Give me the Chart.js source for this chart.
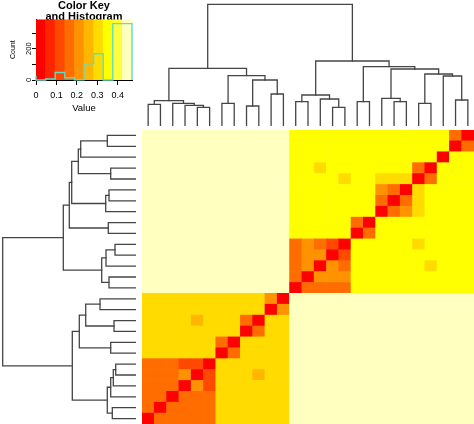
<!DOCTYPE html>
<html>
<head>
<meta charset="utf-8">
<title>Heatmap with dendrograms</title>
<script src="https://cdn.jsdelivr.net/npm/chart.js@4.4.1/dist/chart.umd.min.js"></script>
<style>
  html, body { margin: 0; padding: 0; background: #fff; }
  #page { position: relative; width: 474px; height: 424px; overflow: hidden; }
  .box { position: absolute; }
</style>
</head>
<body>
<div id="page">
  <div class="box" style="left:142px;top:0;width:332px;height:126px"><canvas id="colTree"></canvas></div>
  <div class="box" style="left:0;top:130px;width:136px;height:294px"><canvas id="rowTree"></canvas></div>
  <div class="box" style="left:142px;top:130px;width:332px;height:294px"><canvas id="heat"></canvas></div>
  <div class="box" style="left:0;top:0;width:140px;height:115px"><canvas id="key"></canvas></div>
</div>
<script>
// colour key: 10 bins between these breaks (heat.colors)
const keyBreaks = [0, 0.047, 0.094, 0.141, 0.188, 0.235, 0.282, 0.329, 0.376, 0.423, 0.47]
const heatPalette = ['#FF0000', '#FF2400', '#FF4900', '#FF6D00', '#FF9200',
                     '#FFB600', '#FFDB00', '#FFFF00', '#FFFF40', '#FFFFBF']
const countTicksShown = [0, 200]

// distance matrix, samples already in dendrogram order
// row k = sample k (drawn from the bottom up), column k = sample k (left to right)
const distRows = [
  [0,.16,.16,.16,.16,.16,.3,.3,.3,.3,.3,.3,.44,.44,.44,.44,.44,.44,.44,.44,.44,.44,.44,.44,.44,.44,.44],
  [.16,0,.16,.16,.16,.16,.3,.3,.3,.3,.3,.3,.44,.44,.44,.44,.44,.44,.44,.44,.44,.44,.44,.44,.44,.44,.44],
  [.16,.16,0,.16,.16,.16,.3,.3,.3,.3,.3,.3,.44,.44,.44,.44,.44,.44,.44,.44,.44,.44,.44,.44,.44,.44,.44],
  [.16,.16,.16,0,.21,.12,.3,.3,.3,.3,.3,.3,.44,.44,.44,.44,.44,.44,.44,.44,.44,.44,.44,.44,.44,.44,.44],
  [.16,.16,.16,.21,0,.12,.3,.3,.3,.26,.3,.3,.44,.44,.44,.44,.44,.44,.44,.44,.44,.44,.44,.44,.44,.44,.44],
  [.16,.16,.16,.12,.12,0,.3,.3,.3,.3,.3,.3,.44,.44,.44,.44,.44,.44,.44,.44,.44,.44,.44,.44,.44,.44,.44],
  [.3,.3,.3,.3,.3,.3,0,.16,.3,.3,.3,.3,.44,.44,.44,.44,.44,.44,.44,.44,.44,.44,.44,.44,.44,.44,.44],
  [.3,.3,.3,.3,.3,.3,.16,0,.3,.3,.3,.3,.44,.44,.44,.44,.44,.44,.44,.44,.44,.44,.44,.44,.44,.44,.44],
  [.3,.3,.3,.3,.3,.3,.3,.3,0,.16,.3,.3,.44,.44,.44,.44,.44,.44,.44,.44,.44,.44,.44,.44,.44,.44,.44],
  [.3,.3,.3,.3,.26,.3,.3,.3,.16,0,.3,.3,.44,.44,.44,.44,.44,.44,.44,.44,.44,.44,.44,.44,.44,.44,.44],
  [.3,.3,.3,.3,.3,.3,.3,.3,.3,.3,0,.21,.44,.44,.44,.44,.44,.44,.44,.44,.44,.44,.44,.44,.44,.44,.44],
  [.3,.3,.3,.3,.3,.3,.3,.3,.3,.3,.21,0,.44,.44,.44,.44,.44,.44,.44,.44,.44,.44,.44,.44,.44,.44,.44],
  [.44,.44,.44,.44,.44,.44,.44,.44,.44,.44,.44,.44,0,.16,.16,.16,.16,.35,.35,.35,.35,.35,.35,.35,.35,.35,.35],
  [.44,.44,.44,.44,.44,.44,.44,.44,.44,.44,.44,.44,.16,0,.21,.21,.21,.35,.35,.35,.35,.35,.35,.35,.35,.35,.35],
  [.44,.44,.44,.44,.44,.44,.44,.44,.44,.44,.44,.44,.16,.21,0,.21,.16,.35,.35,.35,.35,.35,.35,.3,.35,.35,.35],
  [.44,.44,.44,.44,.44,.44,.44,.44,.44,.44,.44,.44,.16,.21,.21,0,.12,.35,.35,.35,.35,.35,.35,.35,.35,.35,.35],
  [.44,.44,.44,.44,.44,.44,.44,.44,.44,.44,.44,.44,.16,.21,.16,.12,0,.35,.35,.35,.35,.35,.3,.35,.35,.35,.35],
  [.44,.44,.44,.44,.44,.44,.44,.44,.44,.44,.44,.44,.35,.35,.35,.35,.35,0,.16,.35,.35,.35,.35,.35,.35,.35,.35],
  [.44,.44,.44,.44,.44,.44,.44,.44,.44,.44,.44,.44,.35,.35,.35,.35,.35,.16,0,.35,.35,.35,.35,.35,.35,.35,.35],
  [.44,.44,.44,.44,.44,.44,.44,.44,.44,.44,.44,.44,.35,.35,.35,.35,.35,.35,.35,0,.16,.21,.3,.35,.35,.35,.35],
  [.44,.44,.44,.44,.44,.44,.44,.44,.44,.44,.44,.44,.35,.35,.35,.35,.35,.35,.35,.16,0,.16,.3,.35,.35,.35,.35],
  [.44,.44,.44,.44,.44,.44,.44,.44,.44,.44,.44,.44,.35,.35,.35,.35,.35,.35,.35,.21,.16,0,.3,.35,.35,.35,.35],
  [.44,.44,.44,.44,.44,.44,.44,.44,.44,.44,.44,.44,.35,.35,.35,.35,.3,.35,.35,.3,.3,.3,0,.16,.35,.35,.35],
  [.44,.44,.44,.44,.44,.44,.44,.44,.44,.44,.44,.44,.35,.35,.3,.35,.35,.35,.35,.35,.35,.35,.16,0,.35,.35,.35],
  [.44,.44,.44,.44,.44,.44,.44,.44,.44,.44,.44,.44,.35,.35,.35,.35,.35,.35,.35,.35,.35,.35,.35,.35,0,.35,.35],
  [.44,.44,.44,.44,.44,.44,.44,.44,.44,.44,.44,.44,.35,.35,.35,.35,.35,.35,.35,.35,.35,.35,.35,.35,.35,0,.16],
  [.44,.44,.44,.44,.44,.44,.44,.44,.44,.44,.44,.44,.35,.35,.35,.35,.35,.35,.35,.35,.35,.35,.35,.35,.35,.16,0]
]

// dendrograms, hclust style: negative = leaf (-1 is sample 0), positive = earlier merge (1-based)
const colMerges = [
  [-5, -6], [-4, 1], [-3, 2], [-1, -2], [4, 3], [-7, -8], [-9, -10], [-11, -12], [7, 8], [6, 9],
  [5, 10], [-13, -14], [-16, -17], [-15, 13], [12, 14], [-18, -19], [-21, -22], [-20, 17], [-23, -24], [-26, -27],
  [-25, 20], [19, 21], [18, 22], [16, 23], [15, 24], [11, 25]
]
const colHeights = [
  0.187, 0.207, 0.227, 0.217, 0.253, 0.227, 0.200, 0.320, 0.460, 0.503,
  0.577, 0.243, 0.187, 0.270, 0.310, 0.243, 0.243, 0.277, 0.227, 0.260,
  0.500, 0.520, 0.570, 0.593, 0.650, 1.217
]
const rowMerges = [
  [-26, -27], [-25, 1], [-23, -24], [3, 2], [-21, -22], [-20, 5], [4, 6], [-18, -19], [7, 8], [-16, -17],
  [-15, 10], [-13, -14], [11, 12], [9, 13], [-11, -12], [-9, -10], [15, 16], [-7, -8], [17, 18], [-5, -6],
  [-4, 20], [-3, 21], [-1, -2], [22, 23], [19, 24], [14, 25]
]
const rowHeights = [
  0.287, 0.553, 0.253, 0.577, 0.270, 0.303, 0.643, 0.277, 0.667, 0.210,
  0.300, 0.270, 0.343, 0.727, 0.360, 0.220, 0.503, 0.253, 0.567, 0.203,
  0.227, 0.253, 0.237, 0.287, 0.637, 1.333
]

Chart.defaults.font.family = "'Liberation Sans', Arial, Helvetica, sans-serif"
Chart.defaults.color = '#000'
Chart.defaults.animation = false
Chart.defaults.events = []
Chart.defaults.plugins.legend.display = false
Chart.defaults.plugins.tooltip.enabled = false

function bandOf(v) {
  for (let i = 0; i < heatPalette.length; i++) {
    if (v < keyBreaks[i + 1]) return i
  }
  return heatPalette.length - 1
}

// heatmap: one floating-bar dataset per row
const samples = distRows.map((row, i) => 'S' + (i + 1))
new Chart(document.getElementById('heat'), {
  type: 'bar',
  data: {
    labels: samples,
    datasets: distRows.map((row, r) => ({
      data: row.map(() => [r, r + 1]),
      backgroundColor: row.map(v => heatPalette[bandOf(v)]),
      borderWidth: 0,
      barPercentage: 1,
      categoryPercentage: 1,
      grouped: false
    }))
  },
  options: {
    responsive: true,
    maintainAspectRatio: false,
    layout: { padding: 0 },
    scales: {
      x: { display: false },
      y: { display: false, min: 0, max: samples.length }
    }
  }
})

// turn merges into 4-point elbow paths: [position, height]
function dendroPaths(merges, heights) {
  const pos = [], hgt = []
  const node = id => id < 0 ? { p: -id - 0.5, h: 0 } : { p: pos[id - 1], h: hgt[id - 1] }
  return merges.map(([a, b], k) => {
    const A = node(a), B = node(b), h = heights[k]
    pos[k] = (A.p + B.p) / 2
    hgt[k] = h
    return [[A.p, A.h], [A.p, h], [B.p, h], [B.p, B.h]]
  })
}

function treeChart(id, merges, heights, sideways, hMax) {
  const n = merges.length + 1
  const datasets = dendroPaths(merges, heights).map(path => ({
    data: path.map(([p, h]) => sideways ? { x: h, y: p } : { x: p, y: h }),
    showLine: true,
    pointRadius: 0,
    borderColor: '#454545',
    borderWidth: 1.3,
    borderCapStyle: 'square',
    borderJoinStyle: 'miter',
    clip: 3
  }))
  const posScale = { type: 'linear', display: false, min: 0, max: n }
  const hScale = { type: 'linear', display: false, min: 0, max: hMax, reverse: sideways }
  new Chart(document.getElementById(id), {
    type: 'scatter',
    data: { datasets },
    options: {
      responsive: true,
      maintainAspectRatio: false,
      layout: { padding: 0 },
      scales: sideways ? { x: hScale, y: posScale } : { x: posScale, y: hScale }
    }
  })
}

treeChart('colTree', colMerges, colHeights, false, 1.26)
treeChart('rowTree', rowMerges, rowHeights, true, 1.36)

// colour key with histogram of the matrix values
const counts = heatPalette.map(() => 0)
distRows.forEach(row => row.forEach(v => { counts[bandOf(v)]++ }))
const histPoints = keyBreaks.map((b, i) => ({ x: b, y: counts[Math.min(i, counts.length - 1)] }))
histPoints.push({ x: keyBreaks[keyBreaks.length - 1], y: 0 })

new Chart(document.getElementById('key'), {
  type: 'bar',
  data: {
    labels: heatPalette.map((c, i) => i),
    datasets: [
      {
        type: 'bar',
        data: heatPalette.map(() => [0, 1]),
        backgroundColor: heatPalette,
        borderWidth: 0,
        barPercentage: 1,
        categoryPercentage: 1,
        grouped: false,
        xAxisID: 'xBand',
        yAxisID: 'yBand',
        order: 2
      },
      {
        type: 'line',
        data: histPoints,
        stepped: 'after',
        borderColor: '#5edcc8',
        borderWidth: 1.4,
        pointRadius: 0,
        fill: false,
        clip: 3,
        xAxisID: 'x',
        yAxisID: 'y',
        order: 1
      }
    ]
  },
  options: {
    responsive: true,
    maintainAspectRatio: false,
    layout: { padding: { left: 0, right: 8, top: 0, bottom: 0 } },
    plugins: {
      title: {
        display: true,
        text: ['Color Key', 'and Histogram'],
        fullSize: false,
        color: '#000',
        font: { size: 11, weight: 'bold', lineHeight: 1.0 },
        padding: { top: 0, bottom: -2.6 }
      }
    },
    scales: {
      xBand: { type: 'category', display: false, offset: true },
      yBand: { type: 'linear', display: false, min: 0, max: 1 },
      x: {
        type: 'linear',
        position: 'bottom',
        min: 0,
        max: keyBreaks[keyBreaks.length - 1],
        offset: false,
        grid: { offset: false, drawOnChartArea: false, drawTicks: true, tickLength: 5, color: '#000' },
        border: { display: true, color: '#000' },
        ticks: {
          stepSize: 0.1,
          includeBounds: false,
          padding: 5,
          maxRotation: 0,
          font: { size: 9 },
          callback: v => String(Math.round(v * 10) / 10)
        },
        title: { display: true, text: 'Value', font: { size: 9.5 }, padding: { top: 0, bottom: 0.5 } },
        afterFit: s => { s.height = 35 }
      },
      y: {
        type: 'linear',
        position: 'left',
        min: 0,
        max: 387,
        grid: { drawOnChartArea: false, drawTicks: true, tickLength: 4, color: '#000' },
        border: { display: true, color: '#000' },
        ticks: {
          stepSize: 100,
          includeBounds: false,
          minRotation: 90,
          maxRotation: 90,
          crossAlign: 'center',
          padding: -3.3,
          font: { size: 7.5 },
          callback: v => countTicksShown.includes(v) ? String(v) : ''
        },
        title: { display: true, text: 'Count', font: { size: 7 }, padding: { top: 8.5, bottom: 0 } },
        afterFit: s => { s.width = 36 }
      }
    }
  }
})
</script>
</body>
</html>
